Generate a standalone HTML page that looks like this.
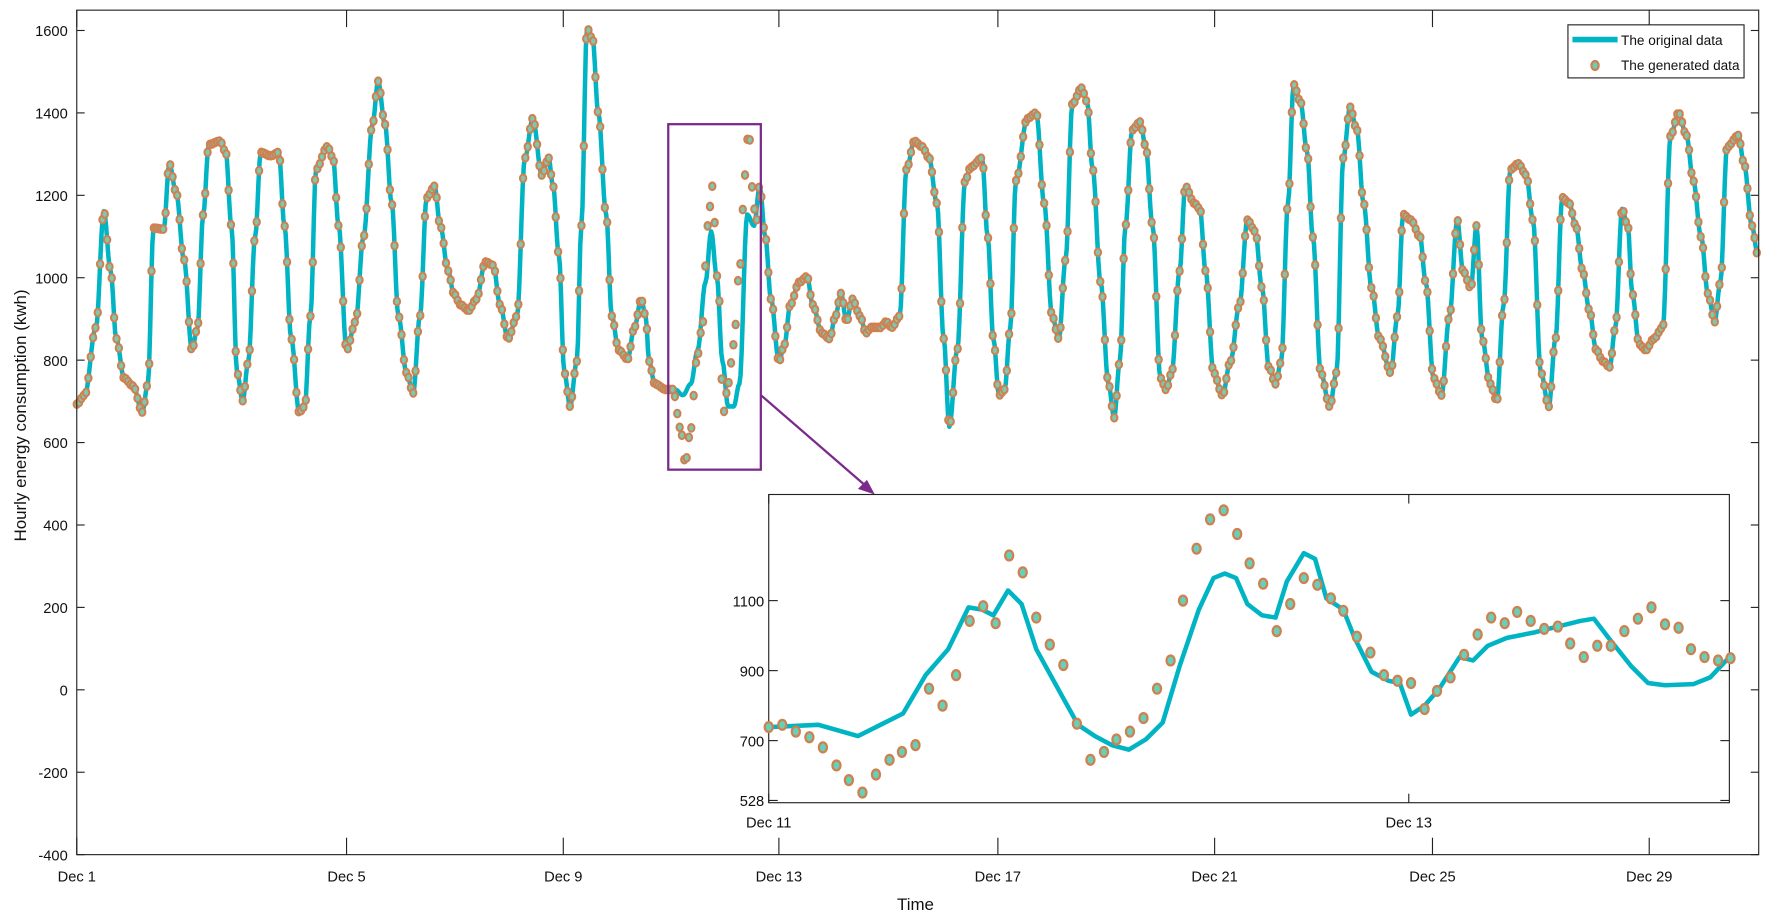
<!DOCTYPE html>
<html><head><meta charset="utf-8"><style>
html,body{margin:0;padding:0;background:#fff;}
svg{display:block;}
text{font-family:"Liberation Sans",sans-serif;fill:#111;}
</style></head><body>
<svg id="s" width="1770" height="919" viewBox="0 0 1568 814" preserveAspectRatio="none" xmlns="http://www.w3.org/2000/svg">
<rect x="0" y="0" width="1568" height="814" fill="#fff"/>
<g id="main"></g>
<rect x="68" y="9" width="1490" height="748" fill="none" stroke="#222" stroke-width="1"/>
<g id="axes" stroke="#222" stroke-width="1"></g>
<g id="labels" font-size="13"></g>
<text x="811" y="806" font-size="15" text-anchor="middle">Time</text>
<text transform="translate(23,368) rotate(-90)" font-size="15" text-anchor="middle">Hourly energy consumption (kwh)</text>
<rect x="592" y="110" width="82" height="306" fill="none" stroke="#7b2a8c" stroke-width="2"/>
<line x1="674" y1="350" x2="770" y2="433" stroke="#7b2a8c" stroke-width="2"/>
<polygon points="775,438 760,433 768,425" fill="#7b2a8c"/>
<rect x="681" y="438" width="851" height="273" fill="#fff" stroke="#222" stroke-width="1"/>
<g id="inset"></g>
<rect x="1389" y="22" width="156" height="47" fill="#fff" stroke="#222" stroke-width="1"/>
<line x1="1393" y1="35" x2="1433" y2="35" stroke="#00b4c4" stroke-width="5"/>
<ellipse cx="1413" cy="58" rx="3.2" ry="4" fill="#66d0b8" stroke="#d08050" stroke-width="2"/>
<text x="1436" y="40" font-size="12.5" textLength="90" lengthAdjust="spacingAndGlyphs">The original data</text>
<text x="1436" y="62" font-size="12.5" textLength="105" lengthAdjust="spacingAndGlyphs">The generated data</text>
</svg>
<script>
var NS="http://www.w3.org/2000/svg";
function el(p,t,a){var e=document.createElementNS(NS,t);for(var k in a)e.setAttribute(k,a[k]);p.appendChild(e);return e;}
function interp(pts,x){for(var i=0;i<pts.length-1;i++){if(x>=pts[i][0]&&x<=pts[i+1][0]){var t=(x-pts[i][0])/(pts[i+1][0]-pts[i][0]);t=(1-Math.cos(t*Math.PI))/2;return pts[i][1]+t*(pts[i+1][1]-pts[i][1]);}}return pts[pts.length-1][1];}
var M=[[68,358],[75,350],[85,290],[92,187],[98,240],[103,300],[110,335],[118,342],[126,365],[131,340],[136,202],[145,203],[150,145],[156,170],[163,230],[170,310],[175,290],[180,190],[185,128],[195,125],[200,135],[205,200],[210,330],[215,355],[220,320],[226,210],[231,135],[240,138],[247,135],[252,200],[258,300],[265,365],[270,360],[275,280],[280,150],[290,130],[295,140],[300,200],[307,310],[315,285],[322,210],[330,110],[335,72],[341,110],[347,180],[353,280],[360,330],[366,348],[372,280],[378,175],[385,165],[390,200],[397,240],[402,260],[408,270],[415,275],[422,265],[430,232],[437,235],[443,270],[450,300],[458,280],[465,140],[472,105],[480,155],[486,140],[490,165],[495,225],[500,330],[505,360],[511,320],[515,200],[520,25],[525,35],[530,100],[537,190],[542,280],[548,310],[556,318],[562,290],[568,265],[572,280],[575,320],[580,340],[590,345],[598,345],[605,350],[612,340],[618,310],[625,250],[630,205],[635,245],[640,320],[645,360],[650,360],[655,340],[662,190],[668,200],[673,165],[678,210],[683,265],[690,320],[695,305],[700,270],[708,250],[715,245],[720,270],[728,295],[735,300],[740,280],[745,260],[750,285],[755,265],[762,280],[767,295],[772,290],[780,290],[785,285],[790,290],[797,280],[803,150],[810,125],[817,130],[823,140],[830,180],[836,300],[841,378],[848,310],[855,160],[860,148],[870,140],[875,210],[880,300],[885,350],[890,345],[895,290],[900,160],[910,105],[918,100],[925,180],[932,280],[938,300],[944,230],[950,92],[958,78],[963,90],[968,150],[975,250],[982,340],[987,370],[992,320],[997,200],[1003,115],[1010,108],[1015,130],[1021,200],[1028,335],[1033,345],[1038,330],[1045,240],[1050,165],[1058,180],[1063,185],[1068,240],[1075,330],[1083,350],[1090,320],[1098,270],[1105,195],[1112,205],[1118,255],[1124,325],[1130,340],[1135,320],[1141,180],[1146,75],[1152,90],[1158,135],[1163,210],[1170,330],[1178,360],[1184,330],[1190,140],[1196,95],[1202,115],[1208,180],[1215,255],[1222,300],[1232,330],[1238,280],[1243,190],[1250,195],[1258,210],[1263,250],[1270,335],[1277,350],[1284,280],[1291,195],[1296,240],[1303,255],[1308,200],[1313,300],[1320,340],[1326,355],[1332,270],[1338,150],[1345,145],[1352,155],[1358,195],[1365,330],[1372,360],[1378,300],[1384,175],[1390,180],[1396,200],[1402,240],[1408,275],[1414,310],[1420,320],[1426,325],[1431,290],[1437,185],[1442,200],[1446,260],[1452,305],[1458,310],[1465,300],[1473,290],[1480,120],[1487,100],[1494,120],[1500,160],[1507,210],[1513,260],[1519,285],[1524,250],[1530,130],[1540,120],[1545,145],[1552,200],[1557,225]];
var G=[[596,345],[603,380],[607,410],[612,380],[617,320],[622,290],[627,200],[631,165],[636,250],[641,365],[645,340],[650,305],[655,240],[660,155],[663,115],[668,185],[672,200]];
var g=document.getElementById("main");
var d="";for(var x=68;x<=1557;x+=1){d+=(x==68?"M":"L")+x+","+interp(M,x).toFixed(1);}
el(g,"path",{d:d,fill:"none",stroke:"#00b4c4","stroke-width":4,"stroke-linejoin":"round"});
for(var x=68;x<=1557;x+=2.07){var y=(x>=596&&x<=672)?interp(G,x):interp(M,x);el(g,"ellipse",{cx:x.toFixed(1),cy:y.toFixed(1),rx:2.8,ry:3.4,fill:"#7cc8b0",stroke:"#d08050","stroke-width":1.8});}
var ax=document.getElementById("axes"),lb=document.getElementById("labels");
var yt=[[1600,27],[1400,100],[1200,173],[1000,246],[800,319],[600,392],[400,465],[200,538],[0,611],[-200,684],[-400,757]];
yt.forEach(function(t){el(ax,"line",{x1:68,y1:t[1],x2:75,y2:t[1]});el(ax,"line",{x1:1551,y1:t[1],x2:1558,y2:t[1]});var e=el(lb,"text",{x:60,y:t[1]+5,"text-anchor":"end"});e.textContent=t[0];});
var xt=[["Dec 1",68],["Dec 5",307],["Dec 9",499],["Dec 13",690],["Dec 17",884],["Dec 21",1076],["Dec 25",1269],["Dec 29",1461]];
xt.forEach(function(t){el(ax,"line",{x1:t[1],y1:757,x2:t[1],y2:742});el(ax,"line",{x1:t[1],y1:9,x2:t[1],y2:24});var e=el(lb,"text",{x:t[1],y:781,"text-anchor":"middle"});e.textContent=t[0];});
var ins=document.getElementById("inset");
var L=[[681,644],[725,642],[760,652],[780,642],[800,632],[820,598],[840,575],[858,538],[870,540],[880,545],[893,523],[905,535],[918,575],[940,615],[955,642],[970,652],[985,660],[1000,664],[1015,655],[1030,640],[1045,590],[1062,540],[1075,512],[1085,508],[1095,512],[1105,535],[1118,545],[1130,547],[1140,515],[1155,490],[1165,495],[1175,530],[1190,540],[1200,565],[1215,595],[1230,603],[1240,605],[1250,633],[1262,625],[1275,610],[1293,582],[1305,585],[1318,572],[1335,565],[1360,560],[1380,555],[1400,550],[1412,548],[1425,565],[1445,590],[1460,605],[1475,607],[1500,606],[1515,600],[1532,582]];
el(ins,"polyline",{points:L.map(function(p){return p.join(",")}).join(" "),fill:"none",stroke:"#00b4c4","stroke-width":4,"stroke-linejoin":"round"});
var D=[[681,644],[693,642],[705,648],[717,653],[729,662],[741,678],[752,691],[764,702],[776,686],[788,673],[799,666],[811,660],[823,610],[835,625],[847,598],[859,550],[871,537],[882,552],[894,492],[906,507],[918,547],[930,571],[942,589],[954,641],[966,673],[978,666],[989,655],[1001,648],[1013,636],[1025,610],[1037,585],[1048,532],[1060,486],[1072,460],[1084,452],[1096,473],[1107,499],[1119,517],[1131,559],[1143,535],[1155,512],[1167,518],[1179,530],[1190,541],[1202,564],[1214,578],[1226,598],[1238,603],[1250,605],[1262,628],[1273,612],[1285,600],[1297,580],[1309,562],[1321,547],[1333,552],[1344,542],[1356,550],[1368,557],[1380,555],[1391,570],[1403,582],[1415,572],[1427,572],[1439,559],[1451,548],[1463,538],[1475,553],[1487,556],[1498,575],[1510,582],[1522,585],[1533,583]];
D.forEach(function(p){el(ins,"ellipse",{cx:p[0],cy:p[1],rx:3.6,ry:4.4,fill:"#66d0b8",stroke:"#d08050","stroke-width":2});});
[[1100,532],[900,594],[700,656],[528,709]].forEach(function(t){el(ins,"line",{x1:681,y1:t[1],x2:689,y2:t[1],stroke:"#222"});el(ins,"line",{x1:1524,y1:t[1],x2:1532,y2:t[1],stroke:"#222"});var e=el(ins,"text",{x:677,y:t[1]+5,"text-anchor":"end","font-size":13});e.textContent=t[0];});
[["Dec 11",681],["Dec 13",1248]].forEach(function(t){el(ins,"line",{x1:t[1],y1:711,x2:t[1],y2:703,stroke:"#222"});el(ins,"line",{x1:t[1],y1:438,x2:t[1],y2:446,stroke:"#222"});var e=el(ins,"text",{x:t[1],y:733,"text-anchor":"middle","font-size":13});e.textContent=t[0];});
</script>
</body></html>
